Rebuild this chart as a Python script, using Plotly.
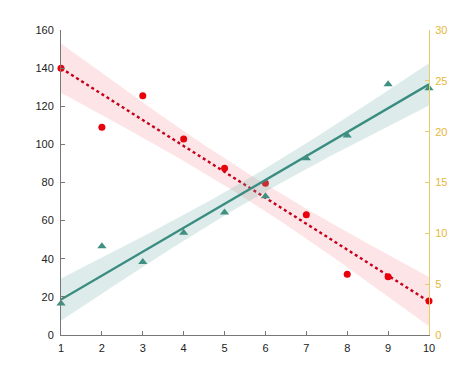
import numpy as np
import plotly.graph_objects as go

x_vals = [1, 2, 3, 4, 5, 6, 7, 8, 9, 10]
red_vals = [140, 109, 125.5, 102.8, 87.5, 79.6, 63.1, 31.9, 30.5, 17.8]
teal_vals = [16.5, 46.5, 38.3, 53.7, 64.2, 72.8, 92.7, 104.6, 131.6, 129.5]
left_ticks = [0, 20, 40, 60, 80, 100, 120, 140, 160]
right_ticks = [0, 5, 10, 15, 20, 25, 30]
T_CRIT = 2.306  # t(0.975, df=8)


def fit_band(x, y):
    x = np.asarray(x, float)
    y = np.asarray(y, float)
    b, a = np.polyfit(x, y, 1)
    pred = a + b * x
    s = np.sqrt(np.sum((y - pred) ** 2) / (len(x) - 2))
    xs = np.linspace(x.min(), x.max(), 100)
    ys = a + b * xs
    se = s * np.sqrt(1 / len(x) + (xs - x.mean()) ** 2 / np.sum((x - x.mean()) ** 2))
    return xs, ys, ys - T_CRIT * se, ys + T_CRIT * se


fig = go.Figure()

for yv, fill, lcol, dash, mcol, sym in [
    (red_vals, "rgba(250,180,185,0.35)", "#c4001c", "dot", "#e8000b", "circle"),
    (teal_vals, "rgba(120,180,170,0.25)", "#3a8c80", "solid", "#3f9080", "triangle-up"),
]:
    xs, ys, lo, hi = fit_band(x_vals, yv)
    fig.add_trace(go.Scatter(x=np.concatenate([xs, xs[::-1]]), y=np.concatenate([hi, lo[::-1]]),
                             fill="toself", fillcolor=fill, line=dict(width=0),
                             mode="lines", hoverinfo="skip", showlegend=False))
    fig.add_trace(go.Scatter(x=xs, y=ys, mode="lines",
                             line=dict(color=lcol, width=2.4, dash=dash), showlegend=False))
    fig.add_trace(go.Scatter(x=x_vals, y=yv, mode="markers", cliponaxis=False,
                             marker=dict(color=mcol, size=7 if sym == "circle" else 8, symbol=sym),
                             showlegend=False))

# dummy trace for right axis
fig.add_trace(go.Scatter(x=[1], y=[0], yaxis="y2", mode="markers",
                         marker=dict(opacity=0), hoverinfo="skip", showlegend=False))

font = dict(family="Liberation Sans, Arial, sans-serif", size=11, color="#222")
fig.update_layout(
    width=474, height=377,
    margin=dict(l=61, r=45, t=30, b=42),
    paper_bgcolor="white", plot_bgcolor="white",
    font=font,
    xaxis=dict(range=[1, 10], tickvals=x_vals, showgrid=False, zeroline=False,
               showline=True, linecolor="#777", linewidth=1, ticks="inside",
               ticklen=4, tickcolor="#777", ticklabelstandoff=3,
               tickfont=dict(size=11, color="#222")),
    yaxis=dict(range=[0, 160], tickvals=left_ticks, showgrid=False, zeroline=False,
               showline=True, linecolor="#777", linewidth=1, ticks="inside",
               ticklen=4, tickcolor="#777", ticklabelstandoff=4,
               tickfont=dict(size=11, color="#222")),
    yaxis2=dict(range=[0, 30], tickvals=right_ticks, overlaying="y", side="right",
                showgrid=False, zeroline=False, showline=True, linecolor="#e8cc6a",
                linewidth=1, ticks="inside", ticklen=4, tickcolor="#e8cc6a",
                ticklabelstandoff=3,
                tickfont=dict(size=11, color="#e6b83a")),
)

fig.write_html("out.html")
